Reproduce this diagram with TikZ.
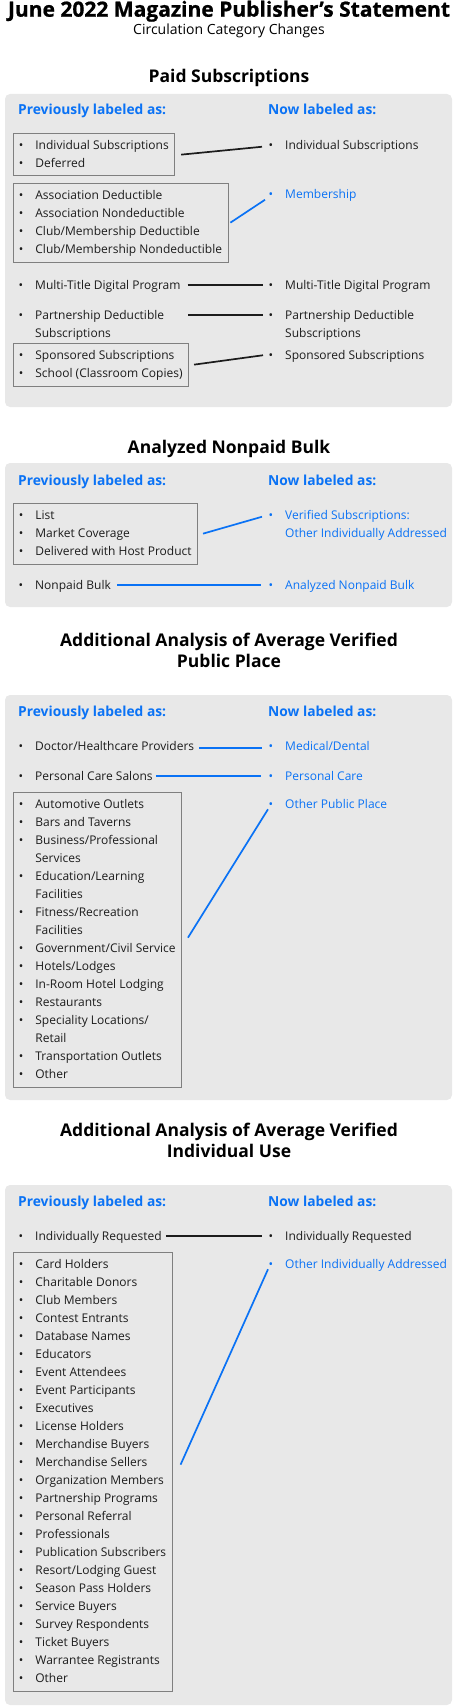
\documentclass[tikz,border=0pt]{standalone}
\usepackage{fontspec}
\setmainfont{Open Sans}
\newfontfamily\heavyfont[BoldFeatures={FakeBold=0.8}]{Open Sans}

\definecolor{linkblue}{HTML}{0A72F5}
\definecolor{panelgray}{HTML}{E8E8E8}
\definecolor{boxgray}{HTML}{7F7F7F}
\definecolor{textdark}{HTML}{1C1C1C}

\newcommand{\sectfont}{\fontsize{17.5}{21}\selectfont\bfseries}
\newcommand{\lstrut}{\rule[-4.5pt]{0pt}{17.5pt}}
\newcommand{\bul}{\makebox[16pt][l]{\hspace{-0.5pt}\textbullet}}
\newcommand{\li}[1]{\lstrut\bul #1}
\newcommand{\cont}[1]{\lstrut\hspace*{16pt}#1}

\begin{document}
\begin{tikzpicture}[x=1pt, y=-1pt,
		font=\fontsize{12}{18}\selectfont,
		panel/.style={fill=panelgray, rounded corners=5pt},
		title/.style={inner sep=0, anchor=base, align=center},
		colhead/.style={inner sep=0, anchor=base west, text=linkblue, font=\fontsize{13.8}{16}\selectfont\bfseries},
		item/.style={inner sep=0, anchor=base west, text=textdark},
		newitem/.style={item, text=linkblue},
		group/.style={draw=boxgray, line width=0.8pt, anchor=north west, align=left, inner xsep=6pt, inner ysep=3.5pt, text=textdark},
		link/.style={line width=1.7pt, draw=textdark},
		bluelink/.style={line width=1.7pt, draw=linkblue}
		]
		\useasboundingbox (0,0) rectangle (458,1707);
		
		% Panels
		\fill[panel] (5,94) rectangle (452,407);
		\fill[panel] (5,463) rectangle (452,607);
		\fill[panel] (5,695) rectangle (452,1100);
		\fill[panel] (5,1185) rectangle (452,1705);
		
		% Heading
		\node[title, font=\heavyfont\bfseries\fontsize{21}{24}\selectfont] (main) at (229,16.7) {June 2022 Magazine Publisher’s Statement};
		\node[title, font=\fontsize{14}{16}\selectfont] (sub) at (229,35) {Circulation Category Changes};
		
		% Paid Subscriptions
		\node[title, font=\sectfont] (t1) at (229,82.3) {Paid Subscriptions};
		\node[colhead] (ph1) at (18,115) {Previously labeled as:};
		\node[colhead] (nh1) at (268,115) {Now labeled as:};
		
		\node[group] (ps1) at (13,133) {\li{Individual Subscriptions}\\\li{Deferred}};
		\node[item] (pn1) at (269,149.5) {\li{Individual Subscriptions}};
		
		\node[group] (ps2) at (13,183) {\li{Association Deductible}\\\li{Association Nondeductible}\\\li{Club/Membership Deductible}\\\li{Club/Membership Nondeductible}};
		\node[newitem] (pn2) at (269,198.5) {\li{Membership}};
		
		\node[item] (ps3) at (19,289.5) {\li{Multi-Title Digital Program}};
		\node[item] (pn3) at (269,289.5) {\li{Multi-Title Digital Program}};
		
		\node[item] (ps4) at (19,319.5) {\li{Partnership Deductible}};
		\node[item] (ps4b) at (19,337.5) {\cont{Subscriptions}};
		\node[item] (pn4) at (269,319.5) {\li{Partnership Deductible}};
		\node[item] (pn4b) at (269,337.5) {\cont{Subscriptions}};
		
		\node[group] (ps5) at (13,343) {\li{Sponsored Subscriptions}\\\li{School (Classroom Copies)}};
		\node[item] (pn5) at (269,359.5) {\li{Sponsored Subscriptions}};
		
		\draw[link] ([xshift=6pt]ps1.east) -- ([xshift=-7pt,yshift=-1.5pt]pn1.west);
		\draw[bluelink] ([xshift=2pt]ps2.east) -- ([xshift=-4pt,yshift=-5.5pt]pn2.west);
		\draw[link] ([xshift=7pt]ps3.east) -- ([xshift=-6pt]pn3.west);
		\draw[link] ([xshift=24pt]ps4.east) -- ([xshift=-6pt]pn4.west);
		\draw[link] ([xshift=5pt]ps5.east) -- ([xshift=-6pt]pn5.west);
		
		% Analyzed Nonpaid Bulk
		\node[title, font=\sectfont] (t2) at (229,453) {Analyzed Nonpaid Bulk};
		\node[colhead] (ph2) at (18,485) {Previously labeled as:};
		\node[colhead] (nh2) at (268,485) {Now labeled as:};
		
		\node[group] (ps6) at (13,503) {\li{List}\\\li{Market Coverage}\\\li{Delivered with Host Product}};
		\node[newitem] (pn6) at (269,519.5) {\li{Verified Subscriptions:}};
		\node[newitem] (pn6b) at (269,537.5) {\cont{Other Individually Addressed}};
		
		\node[item] (ps7) at (19,589.5) {\li{Nonpaid Bulk}};
		\node[newitem] (pn7) at (269,589.5) {\li{Analyzed Nonpaid Bulk}};
		
		\draw[bluelink] ([xshift=5pt]ps6.east) -- ([xshift=-7pt,yshift=-1.5pt]pn6.west);
		\draw[bluelink] ([xshift=6pt]ps7.east) -- ([xshift=-8pt]pn7.west);
		
		% Public Place
		\node[title, font=\sectfont] (t3) at (229,667.5) {Additional Analysis of Average Verified\\Public Place};
		\node[colhead] (ph3) at (18,716) {Previously labeled as:};
		\node[colhead] (nh3) at (268,716) {Now labeled as:};
		
		\node[item] (ps8) at (19,750.5) {\li{Doctor/Healthcare Providers}};
		\node[newitem] (pn8) at (269,750.5) {\li{Medical/Dental}};
		\node[item] (ps9) at (19,780.5) {\li{Personal Care Salons}};
		\node[newitem] (pn9) at (269,780.5) {\li{Personal Care}};
		
		\node[group] (ps10) at (13,792) {\li{Automotive Outlets}\\\li{Bars and Taverns}\\\li{Business/Professional}\\\cont{Services}\\\li{Education/Learning}\\\cont{Facilities}\\\li{Fitness/Recreation}\\\cont{Facilities}\\\li{Government/Civil Service}\\\li{Hotels/Lodges}\\\li{In-Room Hotel Lodging}\\\li{Restaurants}\\\li{Speciality Locations/}\\\cont{Retail}\\\li{Transportation Outlets}\\\li{Other}};
		\node[newitem] (pn10) at (269,808.5) {\li{Other Public Place}};
		
		\draw[bluelink] ([xshift=5pt,yshift=-1.5pt]ps8.east) -- ([xshift=-7pt,yshift=-1.5pt]pn8.west);
		\draw[bluelink] ([xshift=3pt]ps9.east) -- ([xshift=-8pt]pn9.west);
		\draw[bluelink] ([xshift=6pt,yshift=2pt]ps10.east) -- ([xshift=-1pt,yshift=-5pt]pn10.west);
		
		% Individual Use
		\node[title, font=\sectfont] (t4) at (229,1157.5) {Additional Analysis of Average Verified\\Individual Use};
		\node[colhead] (ph4) at (18,1206) {Previously labeled as:};
		\node[colhead] (nh4) at (268,1206) {Now labeled as:};
		
		\node[item] (ps11) at (19,1240.5) {\li{Individually Requested}};
		\node[item] (pn11) at (269,1240.5) {\li{Individually Requested}};
		
		\node[group] (ps12) at (13,1252) {\li{Card Holders}\\\li{Charitable Donors}\\\li{Club Members}\\\li{Contest Entrants}\\\li{Database Names}\\\li{Educators}\\\li{Event Attendees}\\\li{Event Participants}\\\li{Executives}\\\li{License Holders}\\\li{Merchandise Buyers}\\\li{Merchandise Sellers}\\\li{Organization Members}\\\li{Partnership Programs}\\\li{Personal Referral}\\\li{Professionals}\\\li{Publication Subscribers}\\\li{Resort/Lodging Guest}\\\li{Season Pass Holders}\\\li{Service Buyers}\\\li{Survey Respondents}\\\li{Ticket Buyers}\\\li{Warrantee Registrants}\\\li{Other}};
		\node[newitem] (pn12) at (269,1268.5) {\li{Other Individually Addressed}};
		
		\draw[link] ([xshift=4pt]ps11.east) -- ([xshift=-7pt]pn11.west);
		\draw[bluelink] ([xshift=8pt,yshift=7pt]ps12.east) -- ([xshift=-1pt,yshift=-5pt]pn12.west);
		
	\end{tikzpicture}
\end{document}
